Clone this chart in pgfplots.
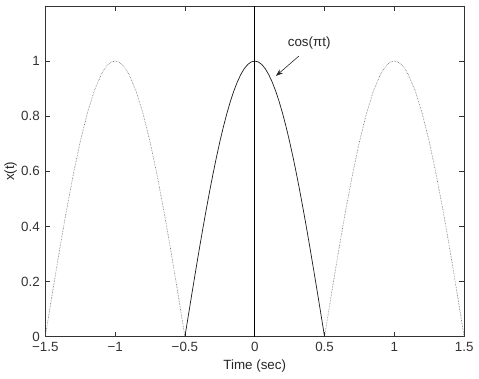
\documentclass[border=0pt]{standalone}
\usepackage{fontspec}
\setmainfont{Liberation Sans}
\usepackage{pgfplots}
\pgfplotsset{compat=1.18}
\usetikzlibrary{arrows.meta}
\begin{document}
\fontsize{13.5pt}{15pt}\selectfont
\begin{tikzpicture}
\begin{axis}[
  name=ax,
  scale only axis, width=423pt, height=334pt,
  xmin=-1.5, xmax=1.5, ymin=0, ymax=1.2,
  xtick={-1.5,-1,-0.5,0,0.5,1,1.5},
  xticklabels={−1.5,−1,−0.5,0,0.5,1,1.5},
  ytick={0,0.2,0.4,0.6,0.8,1},
  yticklabels={0,0.2,0.4,0.6,0.8,1},
  tick align=inside, tick pos=both,
  major tick length=5pt,
  axis line style={black!80, line width=0.8pt},
  tick style={black!80, line width=0.6pt},
  xlabel={Time (sec)}, ylabel={x(t)},
  xlabel style={at={(axis description cs:0.5,0)}, anchor=center, yshift=-30pt},
  ylabel style={at={(axis description cs:0,0.5)}, anchor=center, yshift=35pt},
  xticklabel style={yshift=-1pt},
  yticklabel style={xshift=-1pt},
  tick label style={font=\fontsize{13.5pt}{15pt}\selectfont, text=black!80},
  label style={font=\fontsize{13.5pt}{15pt}\selectfont, text=black!85},
  clip=false,
]
\addplot[black!60, densely dotted, line width=0.6pt] table {
x y
-1.5 0
-1.45 0.15643
-1.4 0.30902
-1.35 0.45399
-1.3 0.58779
-1.25 0.70711
-1.2 0.80902
-1.15 0.89101
-1.1 0.95106
-1.075 0.97237
-1.05 0.98769
-1.025 0.99692
-1 1
-0.975 0.99692
-0.95 0.98769
-0.925 0.97237
-0.9 0.95106
-0.85 0.89101
-0.8 0.80902
-0.75 0.70711
-0.7 0.58779
-0.65 0.45399
-0.6 0.30902
-0.55 0.15643
-0.5 0
};
\addplot[black!60, densely dotted, line width=0.6pt] table {
x y
0.5 0
0.55 0.15643
0.6 0.30902
0.65 0.45399
0.7 0.58779
0.75 0.70711
0.8 0.80902
0.85 0.89101
0.9 0.95106
0.925 0.97237
0.95 0.98769
0.975 0.99692
1 1
1.025 0.99692
1.05 0.98769
1.075 0.97237
1.1 0.95106
1.15 0.89101
1.2 0.80902
1.25 0.70711
1.3 0.58779
1.35 0.45399
1.4 0.30902
1.45 0.15643
1.5 0
};
\addplot[black!90, line width=0.7pt] table {
x y
-0.5 0
-0.475 0.07846
-0.45 0.15643
-0.425 0.23345
-0.4 0.30902
-0.375 0.38268
-0.35 0.45399
-0.325 0.52250
-0.3 0.58779
-0.275 0.64945
-0.25 0.70711
-0.225 0.76041
-0.2 0.80902
-0.175 0.85264
-0.15 0.89101
-0.125 0.92388
-0.1 0.95106
-0.075 0.97237
-0.05 0.98769
-0.025 0.99692
0 1
0.025 0.99692
0.05 0.98769
0.075 0.97237
0.1 0.95106
0.125 0.92388
0.15 0.89101
0.175 0.85264
0.2 0.80902
0.225 0.76041
0.25 0.70711
0.275 0.64945
0.3 0.58779
0.325 0.52250
0.35 0.45399
0.375 0.38268
0.4 0.30902
0.425 0.23345
0.45 0.15643
0.475 0.07846
0.5 0
};
\addplot[black, line width=0.7pt] table {
x y
0 0
0 1.2
};
\draw[-{Stealth[length=7pt,width=5pt]}, black!85, line width=0.6pt] (axis cs:0.316,1.018) -- (axis cs:0.152,0.946);
\node[font=\fontsize{13.5pt}{15pt}\selectfont, text=black!85] at (axis cs:0.39,1.065) {cos(πt)};
\end{axis}
\path ([xshift=-41pt,yshift=-42pt]ax.south west) rectangle ([xshift=15pt,yshift=6pt]ax.north east);
\end{tikzpicture}
\end{document}
